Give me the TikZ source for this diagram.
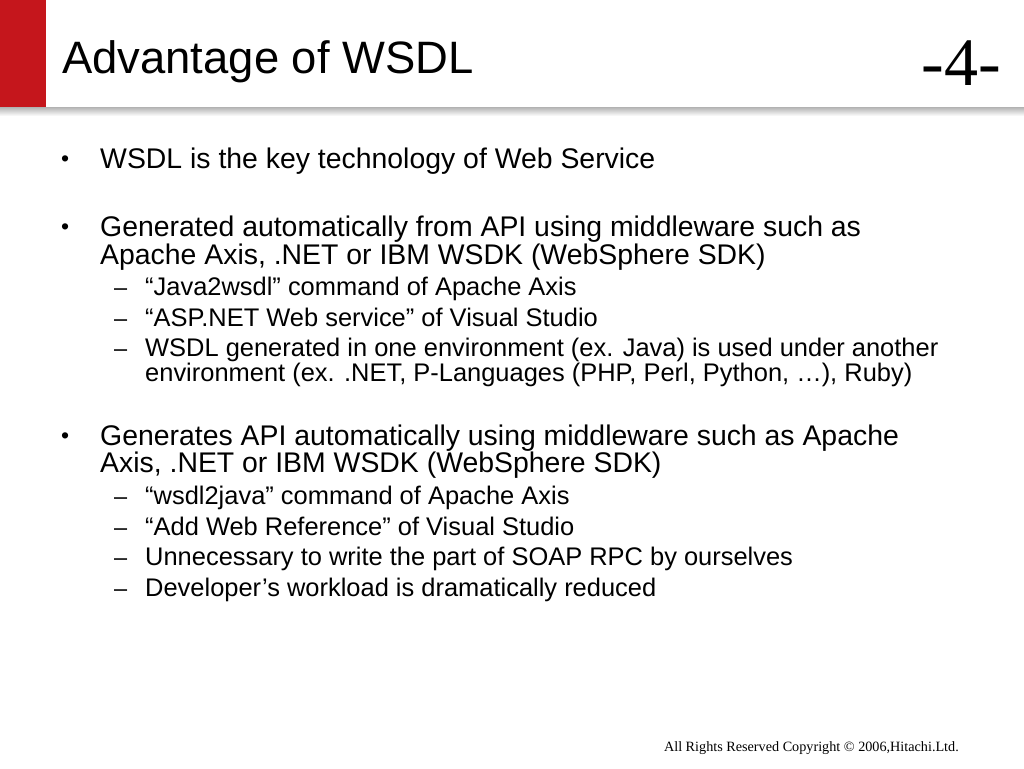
\documentclass[tikz,border=0pt]{standalone}
\usepackage{fontspec}
\setmainfont{Liberation Sans}
\newfontfamily\serifface{Liberation Serif}
\definecolor{hitred}{RGB}{197,22,28}
\tikzset{
 px/.style={x=1pt,y=-1pt},
 lvlone/.style={anchor=base west,inner sep=0pt,font=\fontsize{28.4}{28.4}\selectfont},
 lvltwo/.style={anchor=base west,inner sep=0pt,font=\fontsize{25.45}{25.45}\selectfont},
 bulletmark/.style={anchor=base west,inner sep=0pt,font=\fontsize{23}{23}\selectfont},
 dashmark/.style={anchor=base west,inner sep=0pt,font=\fontsize{23.5}{23.5}\selectfont},
}
\begin{document}
\begin{tikzpicture}[px]
\useasboundingbox (0,0) rectangle (1024,768);
\fill[white] (0,0) rectangle (1024,768);
\shade[top color=black!30,bottom color=white] (0,107) rectangle (1024,116);
\fill[hitred] (0,0) rectangle (46,107);
\node[anchor=base west,inner sep=0pt,font=\fontsize{45.4}{45.4}\selectfont] (title) at (62,73) {Advantage of WSDL};
\node[anchor=base east,inner sep=0pt,font=\fontsize{68}{68}\serifface] (pagenum) at (1001,85) {-4-};
\foreach \n/\y in {a/166,b/234,c/443}{\node[bulletmark] (bul\n) at (61,\y) {•};}
\node[lvlone] (t1) at (100,168) {WSDL is the key technology of Web Service};
\node[lvlone] (t2) at (100,236) {Generated automatically from API using middleware such as};
\node[lvlone] (t2b) at (100,264) {Apache Axis, .NET or IBM WSDK (WebSphere SDK)};
\node[lvltwo] (s1) at (145,295) {“Java2wsdl” command of Apache Axis};
\node[lvltwo] (s2) at (145,326) {“ASP.NET Web service” of Visual Studio};
\node[lvltwo] (s3) at (145,356) {WSDL generated in one environment (ex. Java) is used under another};
\node[lvltwo] (s3b) at (145,381) {environment (ex. .NET, P-Languages (PHP, Perl, Python, …), Ruby)};
\node[lvlone] (t3) at (100,445) {Generates API automatically using middleware such as Apache};
\node[lvlone] (t3b) at (100,472) {Axis, .NET or IBM WSDK (WebSphere SDK)};
\node[lvltwo] (s4) at (145,504) {“wsdl2java” command of Apache Axis};
\node[lvltwo] (s5) at (145,535) {“Add Web Reference” of Visual Studio};
\node[lvltwo] (s6) at (145,565) {Unnecessary to write the part of SOAP RPC by ourselves};
\node[lvltwo] (s7) at (145,596) {Developer’s workload is dramatically reduced};
\foreach \n/\y in {a/295,b/326,c/356,d/504,e/535,f/565,g/596}{\node[dashmark] (dash\n) at (114,\y) {–};}
\node[anchor=base east,inner sep=0pt,font=\fontsize{14.2}{14.2}\serifface] (copy) at (959,751) {All Rights Reserved Copyright © 2006,Hitachi.Ltd.};
\end{tikzpicture}
\end{document}
